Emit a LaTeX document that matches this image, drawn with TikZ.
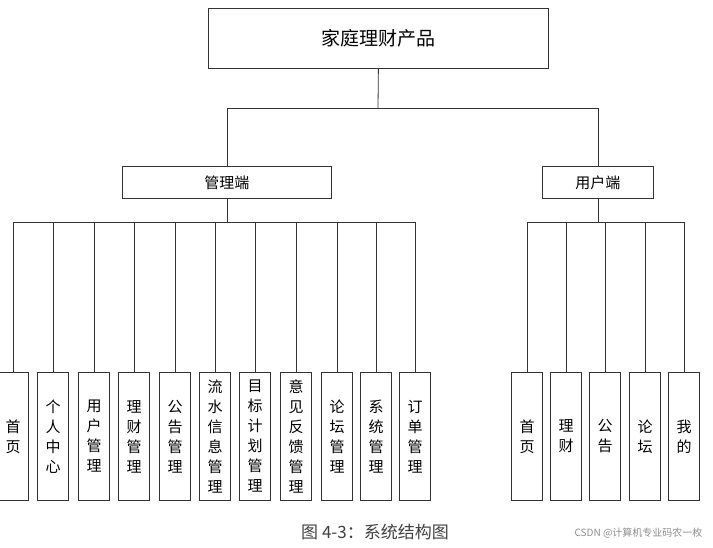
\documentclass[tikz,border=0pt]{standalone}
\usepackage{fontspec}
\setmainfont{Noto Sans CJK SC}
\newfontfamily\serifcjk{Noto Sans CJK SC}
\begin{document}
\begin{tikzpicture}[x=1pt,y=-1pt,
  bx/.style={draw=black!80,line width=0.8pt,inner sep=0pt,anchor=north west},
  leaf/.style={draw=black!80,line width=0.8pt,minimum width=31pt,minimum height=128pt,inner sep=0pt,anchor=north,font=\fontsize{15}{20}\selectfont,align=center},
  ln/.style={draw=black!80,line width=0.8pt}]
\useasboundingbox (0,0) rectangle (713,547);
\node[bx,minimum width=340pt,minimum height=60pt,font=\fontsize{19}{22}\selectfont] (top) at (208,8) {家庭理财产品};
\node[bx,minimum width=209pt,minimum height=32pt,font=\fontsize{15}{18}\selectfont] (adm) at (122,166) {管理端};
\node[bx,minimum width=111pt,minimum height=32pt,font=\fontsize{15}{18}\selectfont] (usr) at (542,166) {用户端};
\coordinate (j1) at (378,108);
\draw[ln] (top.south) -- (j1);
\draw[ln] (227,166) -- (227,108) -- (598,108) -- (598,166);
\draw[ln] (227,198) -- (227,222);
\draw[ln] (13,222) -- (415,222);
\draw[ln] (598,198) -- (598,222);
\draw[ln] (527,222) -- (684,222);
\foreach \x/\t [count=\i] in {13/首\\页,53/个\\人\\中\\心,94/用\\户\\管\\理,134/理\\财\\管\\理,175/公\\告\\管\\理,215/流\\水\\信\\息\\管\\理,255/目\\标\\计\\划\\管\\理,296/意\\见\\反\\馈\\管\\理,337/论\\坛\\管\\理,376/系\\统\\管\\理,415/订\\单\\管\\理}{
  \node[leaf] (a\i) at (\x,372) {\t};
  \draw[ln] (\x,222) -- (a\i.north);
}
\foreach \x/\t [count=\i] in {527/首\\页,566/理\\财,605/公\\告,645/论\\坛,684/我\\的}{
  \node[leaf] (u\i) at (\x,372) {\t};
  \draw[ln] (\x,222) -- (u\i.north);
}
\node[font=\fontsize{17}{20}\selectfont,text=black!75] (cap) at (375,532) {图 4-3：系统结构图};
\node[font=\fontsize{10}{12}\selectfont,text=black!45,anchor=east] (wm) at (706,533) {CSDN @计算机专业码农一枚};
\end{tikzpicture}
\end{document}
